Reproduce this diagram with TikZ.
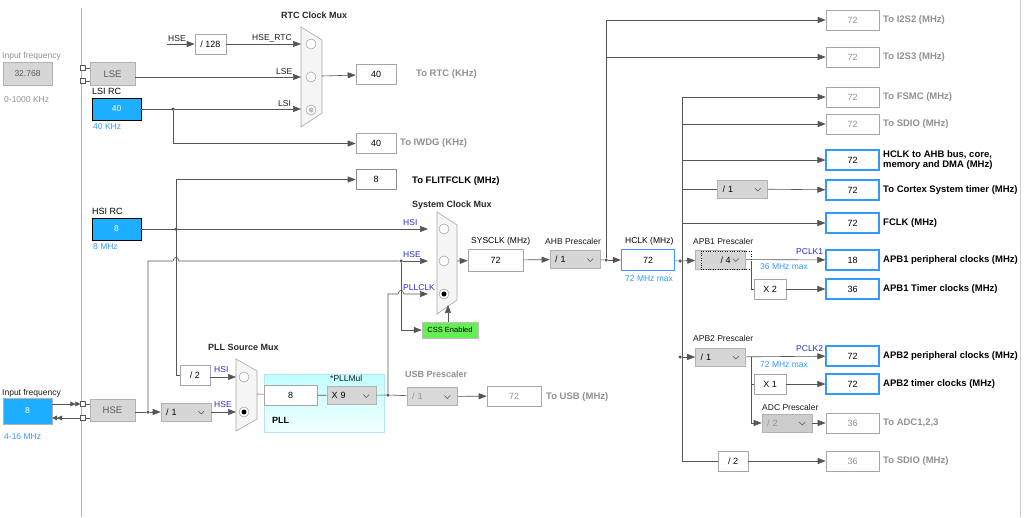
\documentclass[tikz,border=0pt]{standalone}
\usepackage{fontspec}
\setmainfont{Liberation Sans}
\usetikzlibrary{arrows.meta}
\definecolor{ln}{HTML}{555555}
\definecolor{bfill}{HTML}{1EAEFF}
\definecolor{bbord}{HTML}{3399FF}
\definecolor{lbl}{HTML}{3399FF}
\definecolor{vio}{HTML}{2A2AD0}
\definecolor{dis}{HTML}{909090}
\definecolor{ddf}{HTML}{D6D6D6}
\definecolor{css}{HTML}{66EE55}
\newcommand{\chev}[1]{\draw[ln,line width=0.5pt] ([xshift=-13pt,yshift=1pt]#1.east) -- ([xshift=-10pt,yshift=-2pt]#1.east) -- ([xshift=-7pt,yshift=1pt]#1.east);}
\begin{document}
\begin{tikzpicture}[x=1pt,y=-1pt,font=\fontsize{8.5}{9}\selectfont,
 every node/.style={inner sep=0pt},
 ar/.style={ln,line width=0.6pt,-{Triangle[length=8pt,width=6pt]}},
 li/.style={ln,line width=0.6pt},
 box/.style={draw=gray!70,fill=white,line width=0.6pt,minimum width=#1,minimum height=20pt,font=\fontsize{9}{10}\selectfont},
 box/.default=40pt,
 obox/.style={box=53pt,text=dis},
 bluebox/.style={draw=bbord,fill=white,line width=1.2pt,minimum width=53pt,minimum height=20pt,font=\fontsize{9}{10}\selectfont},
 src/.style={draw=black,fill=bfill,text=white,line width=0.6pt,minimum width=49pt,minimum height=22pt},
 gsrc/.style={draw=gray!60,fill=ddf,text=gray!70!black,line width=0.6pt,minimum width=45pt,minimum height=23pt,font=\fontsize{9.5}{10}\selectfont},
 dd/.style={draw=gray!60,fill=ddf,line width=0.6pt,minimum width=50pt,minimum height=18pt,text width=40pt,align=left,font=\fontsize{9}{10}\selectfont},
 olab/.style={anchor=west,font=\fontsize{9.5}{10.5}\selectfont\bfseries},
 dlab/.style={olab,text=dis},
 tit/.style={anchor=west,font=\fontsize{9}{10}\selectfont\bfseries,text=gray!30!black},
 vl/.style={anchor=south west,text=vio},
 dot/.style={circle,fill=ln,minimum size=3.5pt},
 cir/.style={circle,draw=gray!70,fill=white,minimum size=10pt,line width=0.6pt},
 sq/.style={draw=ln,fill=white,minimum size=5pt,line width=0.5pt},
 mux/.style={draw=gray!70,fill=gray!8,line width=0.6pt}]
\useasboundingbox (0,0) rectangle (1024,517);
% frame lines
\draw[gray!60,line width=0.8pt] (81,8) -- (81,517);
\draw[gray!40,line width=0.8pt] (1020,0) -- (1020,517);

% ---------- top-left sources
\node[anchor=west,text=dis] (if1) at (2,56) {Input frequency};
\node[draw=gray!60,fill=ddf,text=gray!70!black,minimum width=49pt,minimum height=23pt] (lsein) at (27.5,74) {32.768};
\node[anchor=west,text=dis] (r1) at (4,100) {0-1000 KHz};
\node[gsrc] (lse) at (112.5,74) {LSE};
\node[sq] (s1) at (83,68) {};
\node[sq] (s2) at (83,81) {};
\draw[li] (s1) -- (lse.west |- s1);
\draw[li] (s2) -- (lse.west |- s2);
\node[anchor=west,font=\fontsize{9}{10}\selectfont] (lsil) at (92,91) {LSI RC};
\node[src] (lsi) at (116.5,109) {40};
\node[anchor=west,text=lbl] (lsik) at (93,127) {40 KHz};
\node[anchor=west,font=\fontsize{9}{10}\selectfont] (hsil) at (92,211) {HSI RC};
\node[src] (hsi) at (116.5,229) {8};
\node[anchor=west,text=lbl] (hsik) at (93,247) {8 MHz};

% ---------- RTC mux
\node[tit] (rtct) at (281,15) {RTC Clock Mux};
\draw[mux] (301,27) -- (322,40) -- (322,113) -- (301,127) -- cycle;
\node[cir] (rc1) at (311,44) {};
\node[cir] (rc2) at (311,77) {};
\node[cir] (rc3) at (311,110) {};
\fill[gray!50] (rc3) circle (2.5pt);
\coordinate (hsein) at (167,44);
\node[anchor=south west,text=gray!20!black] (hsetx) at (168,42) {HSE};
\node[box=31pt] (d128) at (210.5,44) {/ 128};
\draw[ar] (hsein) -- (d128);
\draw[ar] (d128) -- (301,44);
\node[anchor=south west,text=gray!20!black] at (252,42) {HSE\_RTC};
\draw[ar] (lse.east |- 0,77) -- (301,77);
\node[anchor=south west,text=gray!20!black] at (276,75) {LSE};
\node[dot] (dlsi) at (173,109) {};
\draw[ar] (lsi) -- (301,109);
\node[anchor=south west,text=gray!20!black] at (278,107) {LSI};
\node[box] (rtc) at (376,74.5) {40};
\node[olab,text=dis] at (416,74.5) {To RTC (KHz)};
\draw[ar] (322,76) -- (rtc);
\node[box] (iwdg) at (376,143.5) {40};
\node[dlab] at (400,143.5) {To IWDG (KHz)};
\draw[ar] (dlsi) |- (iwdg);
\node[box,draw=gray!90] (flit) at (376,179.5) {8};
\node[olab] at (412,181) {To FLITFCLK (MHz)};

% ---------- HSI / HSE lines
\node[dot] (dhsi) at (176,229) {};
\draw[ar] (176,375) -- (176,179.5) -- (flit);
\node[tit] (sct) at (412,205) {System Clock Mux};
\draw[mux] (437,212) -- (457,225) -- (457,300) -- (437,314) -- cycle;
\node[cir] (sc1) at (444,229) {};
\node[cir] (sc2) at (444,261) {};
\node[cir] (sc3) at (444,294) {};
\fill[black] (sc3) circle (2.5pt);
\draw[ar] (hsi) -- (428,229);
\node[vl] at (403,226) {HSI};

% lower left HSE
\node[anchor=west,text=gray!20!black] (if2) at (2,393) {Input frequency};
\node[draw=gray!60,fill=bfill,text=white,minimum width=49pt,minimum height=26pt] (hsein2) at (27.5,411) {8};
\node[anchor=west,text=lbl] (r2) at (4,437) {4-16 MHz};
\node[gsrc,minimum height=22pt] (hse) at (112.5,410) {HSE};
\node[sq] (s3) at (83,404) {};
\node[sq] (s4) at (83,418) {};
\draw[li,-{Triangle[length=5pt,width=5pt]Triangle[length=5pt,width=5pt]}] (hsein2.east |- s3) -- (s3);
\draw[li,-{Triangle[length=5pt,width=5pt]Triangle[length=5pt,width=5pt]}] (s4) -- (hsein2.east |- s4);
\draw[li] (s3) -- (hse.west |- s3);
\draw[li] (s4) -- (hse.west |- s4);
\node[dot] (dhse) at (148,412) {};
\node[dot] (dhse2) at (154,412) {};
\node[dd] (div1) at (186,412) {/ 1};
\chev{div1}
\draw[li] (hse.east |- dhse) -- (dhse);
\draw[ar] (dhse) -- (div1);
\node[dot] (dcss) at (401,261) {};
\draw[li] (dhse) -- (148,261) -- (173,261) .. controls (174,256) and (178,256) .. (179,261) -- (dcss);
\draw[ar] (dcss) -- (428,261);
\node[vl] at (403,258) {HSE};
\node[draw=gray!50,fill=css,minimum width=56pt,minimum height=16pt,font=\fontsize{7.5}{8}\selectfont] (cssb) at (450,330) {CSS Enabled};
\draw[ar] (dcss) |- (cssb);
\draw[ar] (cssb.north -| 448,0) -- (448,305);

% ---------- PLL source mux
\node[tit] (pllt) at (208,347) {PLL Source Mux};
\draw[mux] (236,359) -- (257,371) -- (257,419) -- (236,431) -- cycle;
\node[cir] (pc1) at (244,377) {};
\node[cir] (pc2) at (244,412) {};
\fill[black] (pc2) circle (2.5pt);
\node[box=30pt] (div2) at (195,375) {/ 2};
\draw[li] (176,375) -- (div2);
\draw[ar] (div2.east |- 0,377) -- (236,377);
\node[vl] at (214,373) {HSI};
\draw[ar] (div1) -- (236,412);
\node[vl] at (214,408) {HSE};
\shade[top color=cyan!25,bottom color=cyan!5,draw=cyan!30] (264,374) rectangle (384,432);
\node[box=53pt] (pllin) at (290.5,395) {8};
\node[anchor=west,text=gray!20!black] (pmul) at (330,378) {*PLLMul};
\node[dd,minimum width=49pt] (mul) at (351.5,395.5) {X 9};
\chev{mul}
\node[anchor=west,font=\fontsize{9}{10}\selectfont\bfseries] (pll) at (272,420) {PLL};
\draw[li] (257,394) -- (pllin);
\draw[li] (pllin) -- (mul);
\node[dot] (dpll) at (388,395) {};
\draw[li] (mul) -- (dpll);
\draw[ar] (dpll) -- (388,294) -- (398,294) .. controls (399,289) and (403,289) .. (404,294) -- (428,294);
\node[vl] at (403,291) {PLLCLK};
\node[anchor=west,text=dis,font=\fontsize{9}{10}\selectfont\bfseries] (usbl) at (405,374) {USB Prescaler};
\node[dd,text=dis,fill=gray!30] (usbp) at (432,396.5) {/ 1};
\chev{usbp}
\draw[li] (dpll) -- (usbp);
\node[box=54pt,text=dis] (usb) at (514,396) {72};
\node[dlab] at (546,397) {To USB (MHz)};
\draw[ar] (usbp) -- (usb);

% ---------- SYSCLK / AHB
\node[anchor=west] (sysl) at (471,241) {SYSCLK (MHz)};
\node[box=55pt,minimum height=22pt] (sys) at (495.5,260) {72};
\draw[ar] (457,261) -- (sys);
\node[anchor=west,text=gray!20!black] (ahbl) at (545,241) {AHB Prescaler};
\node[dd] (ahb) at (575,259.5) {/ 1};
\chev{ahb}
\draw[ar] (sys) -- (ahb);
\node[dot] (dahb) at (606,260) {};
\node[anchor=west] (hcl) at (625,241) {HCLK (MHz)};
\node[bluebox,minimum height=21pt] (hclk) at (648,260) {72};
\node[anchor=west,text=lbl] (hmax) at (625,279) {72 MHz max};
\draw[li] (ahb) -- (dahb);
\draw[ar] (dahb) -- (hclk);
\node[obox] (i2s2) at (852.5,20) {72};
\node[dlab] at (883,20) {To I2S2 (MHz)};
\node[obox] (i2s3) at (852.5,57) {72};
\node[dlab] at (883,57) {To I2S3 (MHz)};
\draw[ar] (dahb) -- (606,20) -- (i2s2);
\draw[ar] (606,57) -- (i2s3);

% ---------- HCLK branches
\node[dot] (dh) at (680,261) {};
\draw[li] (hclk) -- (dh);
\node[obox] (fsmc) at (852.5,97) {72};
\node[dlab] at (883,97) {To FSMC (MHz)};
\node[obox] (sdio) at (852.5,124) {72};
\node[dlab] at (883,124) {To SDIO (MHz)};
\node[bluebox] (ahbo) at (852.5,160) {72};
\node[olab,align=left] at (883,160) {HCLK to AHB bus, core,\\memory and DMA (MHz)};
\node[dd] (cdiv) at (742.5,189) {/ 1};
\chev{cdiv}
\node[bluebox] (cort) at (852.5,190) {72};
\node[olab] at (883,190) {To Cortex System timer (MHz)};
\node[bluebox] (fclk) at (852.5,223) {72};
\node[olab] at (883,223) {FCLK (MHz)};
\draw[ar] (682,461) -- (682,97) -- (fsmc);
\draw[ar] (682,124) -- (sdio);
\draw[ar] (682,160) -- (ahbo);
\draw[li] (682,189) -- (cdiv);
\draw[ar] (cdiv) -- (cort);
\draw[ar] (682,223) -- (fclk);

% APB1
\node[anchor=west,text=gray!20!black] (a1l) at (693,241) {APB1 Prescaler};
\node[dd] (apb1) at (720.5,259.5) {\hspace{2pt}\tikz[baseline]\node[draw=black,dotted,inner sep=1.5pt]{/ 4};};
\chev{apb1}
\draw[ar] (dh) -- (apb1);
\node[bluebox] (p1) at (852.5,260) {18};
\node[olab] at (883,260) {APB1 peripheral clocks (MHz)};
\node[box=32pt] (x2) at (770,289) {X 2};
\node[bluebox] (t1) at (852.5,289) {36};
\node[olab] at (883,289) {APB1 Timer clocks (MHz)};
\draw[ar] (apb1) -- (p1);
\draw[li] (751,261) |- (x2);
\draw[ar] (x2) -- (t1);
\node[anchor=south west,text=vio] at (796,255) {PCLK1};
\node[anchor=west,text=lbl] at (760,267) {36 MHz max};

% APB2
\node[anchor=west,text=gray!20!black] (a2l) at (693,338) {APB2 Prescaler};
\node[dot] (dh2) at (680,357) {};
\node[dd] (apb2) at (720.5,357) {/ 1};
\chev{apb2}
\draw[ar] (dh2) -- (apb2);
\node[bluebox] (p2) at (852.5,356) {72};
\node[olab] at (883,356) {APB2 peripheral clocks (MHz)};
\node[box=32pt] (x1) at (770,384) {X 1};
\node[bluebox] (t2) at (852.5,384) {72};
\node[olab] at (883,384) {APB2 timer clocks (MHz)};
\draw[ar] (apb2) -- (p2);
\draw[li] (751,357) -- (751,423);
\draw[li] (751,384) -- (x1);
\draw[ar] (x1) -- (t2);
\node[anchor=south west,text=vio] at (796,352) {PCLK2};
\node[anchor=west,text=lbl] at (760,365) {72 MHz max};
\node[anchor=west,text=gray!20!black] at (762,407) {ADC Prescaler};
\node[dd,fill=gray!40,text=dis] (adcp) at (787,423) {/ 2};
\chev{adcp}
\node[obox] (adc) at (852.5,423) {36};
\node[dlab] at (883,423) {To ADC1,2,3};
\draw[ar] (751,423) -- (adcp);
\draw[ar] (adcp) -- (adc);
\node[box=30pt] (sd2) at (733,461) {/ 2};
\node[obox] (sdio2) at (852.5,461) {36};
\node[dlab] at (883,461) {To SDIO (MHz)};
\draw[li] (682,461) -- (sd2);
\draw[ar] (sd2) -- (sdio2);
\end{tikzpicture}
\end{document}
